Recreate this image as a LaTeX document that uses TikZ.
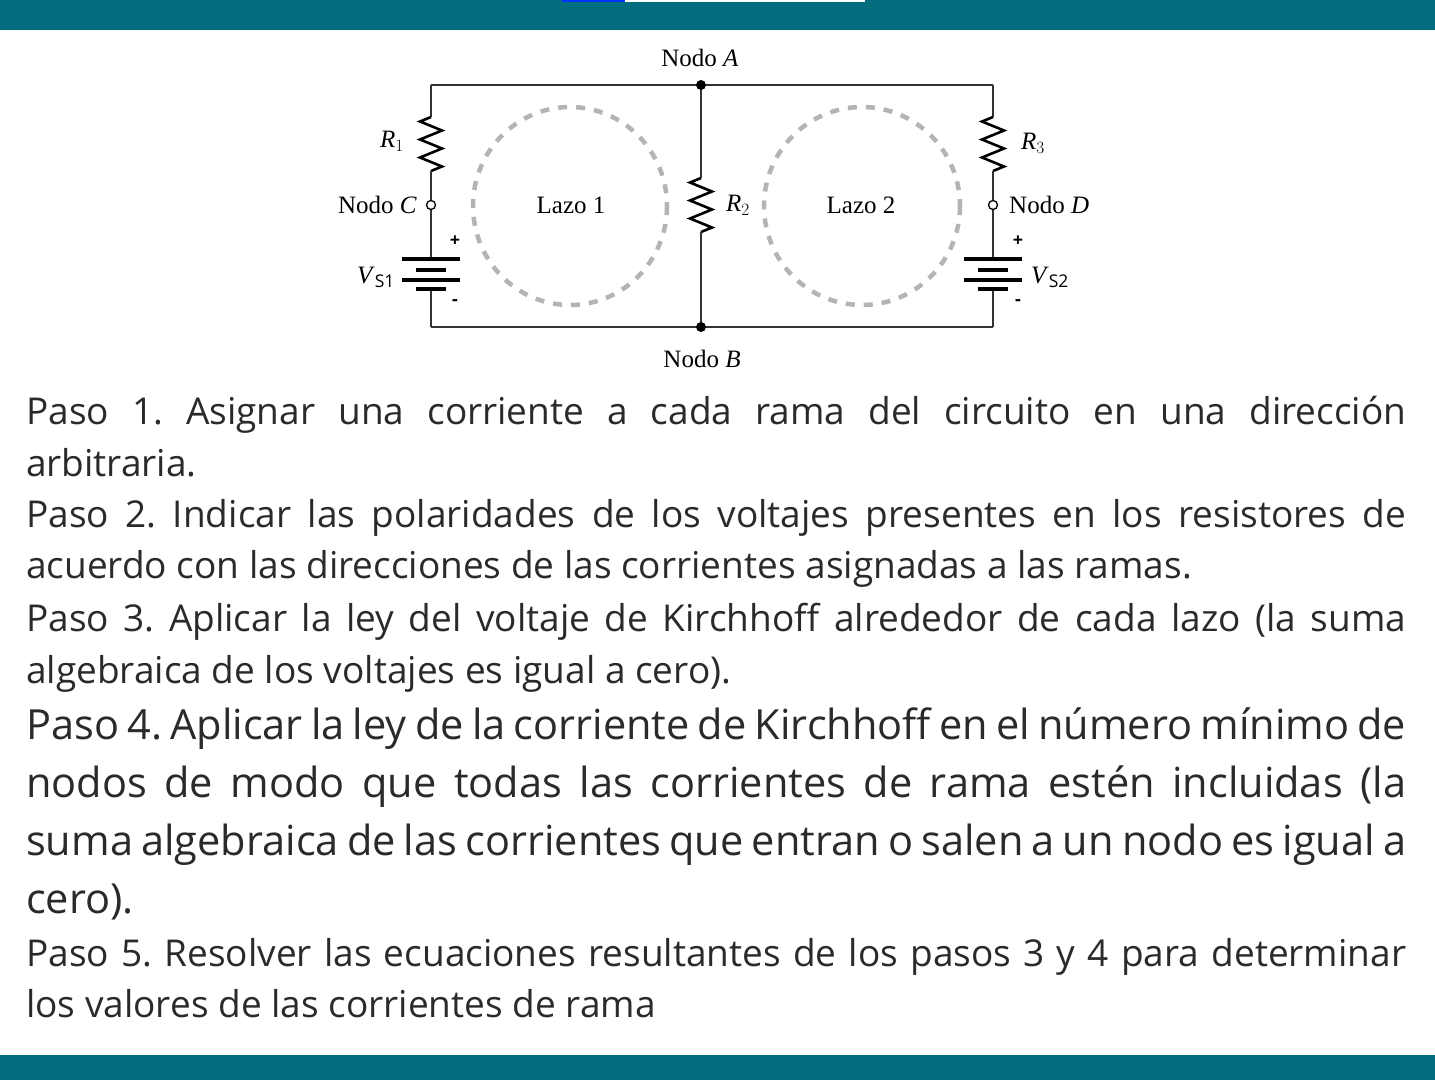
\documentclass[tikz,border=0pt]{standalone}
\usepackage{fontspec}
\setmainfont{Open Sans}
\newfontfamily\serifc{Liberation Serif}
\definecolor{teal1}{HTML}{046E7E}
\definecolor{loopg}{HTML}{B4B4B4}
\definecolor{txt}{HTML}{2A2A2A}
\tikzset{
 wire/.style={line width=2pt,black!80},
 zz/.style={line width=2.6pt,black,line join=miter},
 loopc/.style={loopg,line width=4.5pt,dash pattern=on 9pt off 9pt},
 clab/.style={font=\serifc\fontsize{25}{28}\selectfont,inner sep=0pt},
 pm/.style={inner sep=0pt,font=\bfseries\fontsize{18}{20}\selectfont},
 para/.style={anchor=north west,inner sep=0pt,text width=1380pt,align=justify,text=txt},
 plate/.style={line width=3.5pt,black},
}
\newcommand{\zig}[3]{% x, ytop, ybot
 \draw[zz] (#1,#2) -- ++(-11,4.5) -- ++(22,9) -- ++(-22,9) -- ++(22,9) -- ++(-22,9) -- ++(22,9) -- ++(-11,4.5);}
\begin{document}
\begin{tikzpicture}[x=1pt,y=-1pt]
\frenchspacing\hyphenpenalty=10000 \exhyphenpenalty=10000
\useasboundingbox (0,0) rectangle (1435,1080);
\fill[white] (0,0) rectangle (1435,1080);
\fill[teal1] (0,0) rectangle (1435,30);
\fill[teal1] (0,1055) rectangle (1435,1080);
\fill[blue!80!cyan] (562,0) rectangle (625,2);
\fill[white] (625,0) rectangle (865,2);
% circuit coordinates
\coordinate (TL) at (431,85); \coordinate (TR) at (993,85);
\coordinate (BL) at (431,327); \coordinate (BR) at (993,327);
\coordinate (A) at (701,85); \coordinate (B) at (701,327);
\coordinate (C) at (431,205); \coordinate (D) at (993,205);
\draw[wire] (TL) -- (TR);
\draw[wire] (BL) -- (BR);
\draw[wire] (TL) -- (431,117);
\zig{431}{117}{171}
\draw[wire] (431,171) -- (C);
\draw[wire] (C) -- (431,259);
\draw[wire] (431,289) -- (BL);
\draw[wire] (TR) -- (993,117);
\zig{993}{117}{171}
\draw[wire] (993,171) -- (D);
\draw[wire] (D) -- (993,259);
\draw[wire] (993,289) -- (BR);
\draw[wire] (A) -- (701,178);
\zig{701}{178}{232}
\draw[wire] (701,232) -- (B);
\fill (A) circle (5); \fill (B) circle (5);
\draw[line width=1.3pt,fill=white] (C) circle (4.5);
\draw[line width=1.3pt,fill=white] (D) circle (4.5);
% batteries
\foreach \x in {431,993}{
 \draw[plate] (\x-29,259) -- (\x+29,259);
 \draw[plate] (\x-15,270) -- (\x+15,270);
 \draw[plate] (\x-29,280) -- (\x+29,280);
 \draw[plate] (\x-15,289) -- (\x+15,289);
}
\node[pm] (p1p) at (455,241) {+};
\node[pm] (p1m) at (455,303) {-};
\node[pm] (p2p) at (1018,241) {+};
\node[pm] (p2m) at (1018,303) {-};
% loops
\draw[loopc] (570,206) ellipse (97 and 99);
\draw[loopc] (862,206) ellipse (98 and 99);
% labels
\node[clab] (nA) at (700,58) {Nodo \textit{A}};
\node[clab] (nB) at (702,359) {Nodo \textit{B}};
\node[clab,anchor=east] (nC) at (417,205) {Nodo \textit{C}};
\node[clab,anchor=west] (nD) at (1009,205) {Nodo \textit{D}};
\node[clab] (l1) at (571,205) {Lazo 1};
\node[clab] (l2) at (861,205) {Lazo 2};
\node[clab] (r1) at (392,141) {\textit{R}$_1$};
\node[clab] (r2) at (738,205) {\textit{R}$_2$};
\node[clab] (r3) at (1033,143) {\textit{R}$_3$};
\node[clab] (v1) at (376,277) {\textit{V}$_{\mathrm{S1}}$};
\node[clab] (v2) at (1050,277) {\textit{V}$_{\mathrm{S2}}$};
% text
\node[para,font=\fontsize{37}{51.5}\selectfont] (q1) at (26,396) {Paso 1. Asignar una corriente a cada rama del circuito en una dirección\linebreak arbitraria.};
\node[para,font=\fontsize{37}{51.5}\selectfont] (q2) at (26,499) {Paso 2. Indicar las polaridades de los voltajes presentes en los resistores de\linebreak acuerdo con las direcciones de las corrientes asignadas a las ramas.};
\node[para,font=\fontsize{37}{51.5}\selectfont] (q3) at (26,603) {Paso 3. Aplicar la ley del voltaje de Kirchhoff alrededor de cada lazo (la suma\linebreak algebraica de los voltajes es igual a cero).};
\node[para,font=\fontsize{41.5}{58}\selectfont] (q4) at (26,707) {Paso 4. Aplicar la ley de la corriente de Kirchhoff en el número mínimo de\linebreak nodos de modo que todas las corrientes de rama estén incluidas (la\linebreak suma algebraica de las corrientes que entran o salen a un nodo es igual a\linebreak cero).};
\node[para,font=\fontsize{37}{51.5}\selectfont] (q5) at (26,938) {Paso 5. Resolver las ecuaciones resultantes de los pasos 3 y 4 para determinar\linebreak los valores de las corrientes de rama};
\end{tikzpicture}
\end{document}
